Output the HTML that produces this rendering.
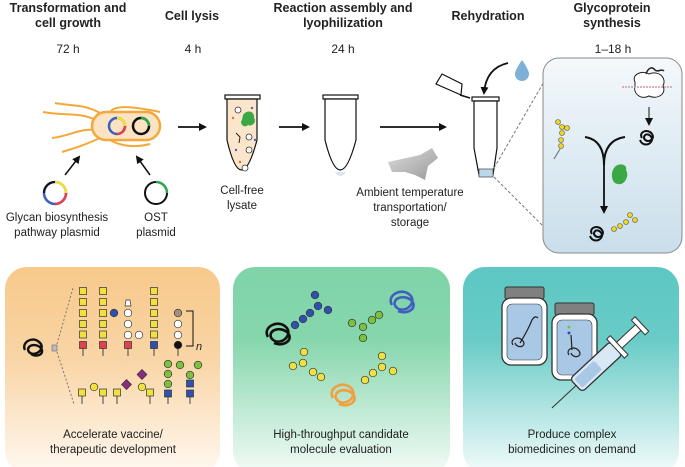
<!DOCTYPE html>
<html><head><meta charset="utf-8"><style>
html,body{margin:0;padding:0;background:#fff}
svg{display:block}
text{font-family:"Liberation Sans",sans-serif;fill:#222}
.t{font-weight:bold;font-size:12.5px;text-anchor:middle}
.h{font-size:12px;text-anchor:middle}
.l{font-size:11.5px;text-anchor:middle}
</style></head><body>
<svg width="685" height="467" viewBox="0 0 685 467" xmlns="http://www.w3.org/2000/svg">
<defs>
<marker id="ar" markerWidth="8" markerHeight="8" refX="6" refY="4" orient="auto" markerUnits="userSpaceOnUse"><path d="M0,0 L8,4 L0,8 z" fill="#111"/></marker>
<linearGradient id="gb" x1="0" y1="0" x2="0" y2="1"><stop offset="0" stop-color="#f4f8fb"/><stop offset="1" stop-color="#c9deeb"/></linearGradient>
<linearGradient id="g1" x1="0" y1="0" x2="0" y2="1"><stop offset="0" stop-color="#f7c98a"/><stop offset="0.45" stop-color="#f9d5a6"/><stop offset="1" stop-color="#fff8f0"/></linearGradient>
<linearGradient id="g2" x1="0" y1="0" x2="0" y2="1"><stop offset="0" stop-color="#7fd4a8"/><stop offset="0.35" stop-color="#86d6ad"/><stop offset="1" stop-color="#f2fbf6"/></linearGradient>
<linearGradient id="g3" x1="0" y1="0" x2="0" y2="1"><stop offset="0" stop-color="#5ec7c3"/><stop offset="0.35" stop-color="#68cbc6"/><stop offset="1" stop-color="#f2fbfb"/></linearGradient>
<linearGradient id="gp" x1="0" y1="0" x2="1" y2="1"><stop offset="0" stop-color="#ddd"/><stop offset="1" stop-color="#999"/></linearGradient>
</defs>

<!-- titles -->
<text class="t" x="68" y="12">Transformation and</text><text class="t" x="68" y="27">cell growth</text>
<text class="t" x="192" y="20">Cell lysis</text>
<text class="t" x="343" y="12">Reaction assembly and</text><text class="t" x="343" y="27">lyophilization</text>
<text class="t" x="488" y="20">Rehydration</text>
<text class="t" x="612" y="12">Glycoprotein</text><text class="t" x="612" y="27">synthesis</text>
<text class="h" x="68" y="53">72 h</text><text class="h" x="193" y="53">4 h</text><text class="h" x="343" y="53">24 h</text><text class="h" x="613" y="53">1–18 h</text>

<!-- bacterium -->
<g fill="none" stroke="#f5a83a" stroke-width="2">
<path d="M96,120 C80,112 65,116 43,112"/><path d="M100,113 C85,104 70,106 55,103"/>
<path d="M96,130 C80,128 70,136 52,138"/><path d="M100,138 C85,145 75,148 62,152"/>
<path d="M110,112 C115,105 130,106 160,112"/><path d="M110,140 C120,146 135,148 150,144"/>
</g>
<rect x="92" y="112" width="68" height="28" rx="14" fill="#fbe3c4" stroke="#f5a83a" stroke-width="2.5"/>
<circle cx="117" cy="126" r="8" fill="none" stroke="#3b5fc0" stroke-width="2.5"/>
<path d="M117,118 A8,8 0 0 1 125,126" stroke="#f0e030" stroke-width="2.5" fill="none"/>
<path d="M125,126 A8,8 0 0 1 117,134" stroke="#e04050" stroke-width="2.5" fill="none"/>
<circle cx="141" cy="126" r="8" fill="none" stroke="#111" stroke-width="2.5"/>
<path d="M141,118 A8,8 0 0 1 149,126" stroke="#2aa84a" stroke-width="2.5" fill="none"/>

<line x1="65" y1="175" x2="79" y2="157" stroke="#111" stroke-width="1.5" marker-end="url(#ar)"/>
<line x1="150" y1="175" x2="137" y2="157" stroke="#111" stroke-width="1.5" marker-end="url(#ar)"/>
<circle cx="55" cy="193" r="11" fill="none" stroke="#3b5fc0" stroke-width="2.5"/>
<path d="M55,182 A11,11 0 0 1 66,193" stroke="#f0e030" stroke-width="2.5" fill="none"/>
<path d="M66,193 A11,11 0 0 1 55,204" stroke="#e04050" stroke-width="2.5" fill="none"/>
<path d="M44,193 A11,11 0 0 1 55,182" stroke="#111" stroke-width="2" fill="none"/>
<circle cx="156" cy="193" r="11" fill="none" stroke="#111" stroke-width="2"/>
<path d="M156,182 A11,11 0 0 1 167,193" stroke="#2aa84a" stroke-width="2.5" fill="none"/>
<text class="l" x="57" y="221">Glycan biosynthesis</text><text class="l" x="57" y="236">pathway plasmid</text>
<text class="l" x="156" y="221">OST</text><text class="l" x="156" y="236">plasmid</text>

<!-- arrows -->
<line x1="178" y1="127" x2="205" y2="127" stroke="#111" stroke-width="1.8" marker-end="url(#ar)"/>
<line x1="279" y1="127" x2="308" y2="127" stroke="#111" stroke-width="1.8" marker-end="url(#ar)"/>
<line x1="380" y1="127" x2="445" y2="127" stroke="#111" stroke-width="1.8" marker-end="url(#ar)"/>

<!-- tube 1 -->
<rect x="225" y="95" width="35" height="4" fill="#fff" stroke="#111" stroke-width="1.2"/>
<path d="M227,99 L227,140 Q241,200 257,140 L257,99 Z" fill="#fbe6cc" stroke="#111" stroke-width="1.2"/>
<path d="M243,115 c4,-6 12,-4 11,3 c3,4 -2,9 -6,7 c-4,4 -9,-2 -6,-5 z" fill="#3aa845"/>
<circle cx="238" cy="110" r="3" fill="#fff" stroke="#333" stroke-width=".8"/>
<circle cx="249" cy="137" r="3" fill="#fff" stroke="#333" stroke-width=".8"/>
<circle cx="249" cy="150" r="3" fill="#fff" stroke="#333" stroke-width=".8"/>
<circle cx="245" cy="168" r="3" fill="#fff" stroke="#333" stroke-width=".8"/>
<path d="M236,133 l4,4 l-1,6" stroke="#222" fill="none"/>
<circle cx="233" cy="118" r="1.2" fill="#e07030"/><circle cx="252" cy="108" r="1.2" fill="#5060c0"/><circle cx="236" cy="150" r="1.2" fill="#5060c0"/><circle cx="240" cy="162" r="1.2" fill="#e07030"/><circle cx="255" cy="140" r="1.2" fill="#5060c0"/>
<text class="l" x="242" y="194">Cell-free</text><text class="l" x="242" y="209">lysate</text>

<!-- tube 2 -->
<rect x="323" y="95" width="35" height="4" fill="#fff" stroke="#111" stroke-width="1.2"/>
<path d="M325,99 L325,140 Q340,200 356,140 L356,99 Z" fill="#fff" stroke="#111" stroke-width="1.2"/>
<path d="M335,172 Q340,180 346,172 Z" fill="#dfe3f0"/>

<!-- plane -->
<path d="M388,162 L420,155 L432,148 L438,158 L428,166 L425,180 L415,175 L405,172 L392,172 Z" fill="url(#gp)"/>
<text class="l" x="410" y="196">Ambient temperature</text><text class="l" x="410" y="211">transportation/</text><text class="l" x="410" y="226">storage</text>

<!-- tube 3 -->
<path d="M461,95 L436,84 L442,74 L462,84 Z" fill="#fff" stroke="#111" stroke-width="1.2"/>
<path d="M460,95 L470,98" stroke="#111" stroke-width="1.5"/>
<rect x="472" y="97" width="27" height="4" fill="#fff" stroke="#111" stroke-width="1.2"/>
<path d="M474,101 L474,148 L479,175 L493,175 L497,148 L497,101 Z" fill="#fff" stroke="#111" stroke-width="1.2"/>
<rect x="479" y="169" width="14" height="8" fill="#bcd6ea" stroke="#555" stroke-width=".8"/>
<path d="M508,63 Q486,68 484,93" fill="none" stroke="#111" stroke-width="1.8" marker-end="url(#ar)"/>
<path d="M522,60 Q529,70 529,74 A7,7 0 0 1 515,74 Q515,70 522,60 Z" fill="#7fb0d8"/>
<line x1="494" y1="168" x2="545" y2="80" stroke="#777" stroke-dasharray="3,2"/>
<line x1="494" y1="177" x2="545" y2="228" stroke="#777" stroke-dasharray="3,2"/>

<!-- blue panel -->
<rect x="543" y="58" width="139" height="195" rx="16" fill="url(#gb)" stroke="#888" stroke-width="1"/>
<path d="M635,82 c-4,-8 8,-12 14,-8 c10,-4 18,4 14,12 c4,8 -6,14 -14,10 c-8,4 -16,-2 -14,-10z" fill="#fff" stroke="#222" stroke-width="1"/>
<path d="M646,74 c2,-6 6,-8 9,-4 c3,3 6,-2 9,1" fill="none" stroke="#222" stroke-width="1.5"/>
<line x1="622" y1="87" x2="673" y2="87" stroke="#c9a" stroke-width="1.5" stroke-dasharray="2,1"/>
<line x1="649" y1="107" x2="649" y2="124" stroke="#111" stroke-width="1" marker-end="url(#ar)"/>
<g fill="none" stroke="#111" stroke-width="2">
<path d="M642,138 c-4,-6 6,-10 10,-4 c4,6 -6,10 -8,4 c0,-6 8,-4 8,2 c-2,6 -10,6 -12,0"/>
<path d="M592,234 c-4,-6 6,-10 10,-4 c4,6 -6,10 -8,4 c0,-6 8,-4 8,2 c-2,6 -10,6 -12,0"/>
</g>
<path d="M585,137 Q604,140 604,165 Q604,140 625,137" fill="none" stroke="#111" stroke-width="2"/>
<line x1="604" y1="163" x2="604" y2="212" stroke="#111" stroke-width="1.8" marker-end="url(#ar)"/>
<path d="M614,168 c4,-6 14,-4 12,2 c4,6 -2,16 -8,14 c-6,0 -8,-10 -4,-16z" fill="#3aa845"/>
<g fill="#f0d820" stroke="#555" stroke-width=".6">
<circle cx="558" cy="122" r="2.5"/><circle cx="562" cy="127" r="2.5"/><circle cx="567" cy="128" r="2.5"/><circle cx="562" cy="133" r="2.5"/><circle cx="561" cy="140" r="2.5"/><circle cx="561" cy="146" r="2.5"/>
<circle cx="614" cy="229" r="2.5"/><circle cx="620" cy="226" r="2.5"/><circle cx="626" cy="222" r="2.5"/><circle cx="630" cy="215" r="2.5"/><circle cx="635" cy="220" r="2.5"/>
</g>
<line x1="560" y1="149" x2="554" y2="159" stroke="#777" stroke-width="1.2"/>

<!-- bottom panels -->
<rect x="5" y="267" width="215" height="206" rx="22" fill="url(#g1)"/>
<rect x="233" y="267" width="217" height="206" rx="22" fill="url(#g2)"/>
<rect x="463" y="267" width="216" height="206" rx="22" fill="url(#g3)"/>

<!-- panel 1 -->
<path d="M25,350 c-4,-8 8,-14 14,-8 c8,6 -4,16 -10,10 c-4,-6 6,-10 12,-4 c4,6 -4,10 -10,6" fill="none" stroke="#111" stroke-width="2.4"/>
<rect x="52" y="345" width="5" height="6" fill="#bbb" stroke="#666" stroke-width=".6"/>
<line x1="57" y1="344" x2="73" y2="288" stroke="#777" stroke-dasharray="2,2"/>
<line x1="57" y1="352" x2="74" y2="404" stroke="#777" stroke-dasharray="2,2"/>
<g stroke="#444" stroke-width="1"><line x1="83" y1="345" x2="83" y2="356"/><line x1="103" y1="345" x2="103" y2="356"/><line x1="128" y1="345" x2="128" y2="356"/><line x1="154" y1="345" x2="154" y2="356"/><line x1="178" y1="345" x2="178" y2="356"/>
<line x1="82" y1="393" x2="82" y2="404"/><line x1="103" y1="393" x2="103" y2="404"/><line x1="117" y1="393" x2="117" y2="404"/><line x1="150" y1="393" x2="150" y2="404"/><line x1="168" y1="393" x2="168" y2="404"/><line x1="190" y1="393" x2="190" y2="404"/></g>
<g stroke="#333" stroke-width=".7">
<g fill="#f0e040">
<rect x="79.5" y="287.5" width="7" height="7"/><rect x="79.5" y="298.5" width="7" height="7"/><rect x="79.5" y="309.5" width="7" height="7"/><rect x="79.5" y="320.5" width="7" height="7"/><rect x="79.5" y="331" width="7" height="7"/>
<rect x="99.5" y="287.5" width="7" height="7"/><rect x="99.5" y="298.5" width="7" height="7"/><rect x="99.5" y="309.5" width="7" height="7"/><rect x="99.5" y="320.5" width="7" height="7"/><rect x="99.5" y="331" width="7" height="7"/>
<rect x="150.5" y="287.5" width="7" height="7"/><rect x="150.5" y="298.5" width="7" height="7"/><rect x="150.5" y="309.5" width="7" height="7"/><rect x="150.5" y="320.5" width="7" height="7"/><rect x="150.5" y="331" width="7" height="7"/>
<rect x="78.5" y="389" width="7" height="7"/><rect x="99.5" y="389" width="7" height="7"/><rect x="113.5" y="389" width="7" height="7"/><rect x="146.5" y="389" width="7" height="7"/></g>
<g fill="#e04050"><rect x="79.5" y="341.5" width="7" height="7"/><rect x="99.5" y="341.5" width="7" height="7"/><rect x="124.5" y="341.5" width="7" height="7"/></g>
<rect x="150.5" y="341.5" width="7" height="7" fill="#3050b0"/>
<circle cx="114" cy="313" r="3.8" fill="#3050b0"/>
<g fill="#fff"><path d="M125,306 L131,306 L130,300 L126,300 Z"/><circle cx="128" cy="313" r="3.8"/><circle cx="128" cy="324" r="3.8"/><circle cx="128" cy="335" r="3.8"/><circle cx="139" cy="335" r="3.8"/><circle cx="178" cy="324" r="3.8"/><circle cx="178" cy="335" r="3.8"/></g>
<circle cx="178" cy="313" r="3.8" fill="#a59080"/><circle cx="178" cy="345" r="3.8" fill="#111"/>
<g fill="#f0e040"><circle cx="94" cy="387" r="3.8"/><circle cx="142" cy="387" r="3.8"/></g>
<g fill="#8a2a80"><rect x="123" y="381" width="7" height="7" transform="rotate(45 126.5 384.5)"/><rect x="138.5" y="371" width="7" height="7" transform="rotate(45 142 374.5)"/></g>
<g fill="#7cc040"><circle cx="168" cy="364" r="3.8"/><circle cx="168" cy="374" r="3.8"/><circle cx="168" cy="384" r="3.8"/><circle cx="180" cy="365" r="3.8"/><circle cx="198" cy="365" r="3.8"/><circle cx="190" cy="375" r="3.8"/></g>
<g fill="#3050b0"><rect x="164.5" y="390" width="7" height="7"/><rect x="186.5" y="380" width="7" height="7"/><rect x="186.5" y="390" width="7" height="7"/></g>
</g>
<path d="M186,311 h7 v35 h-7" fill="none" stroke="#111"/><text x="196" y="350" style="font-size:11px;font-style:italic">n</text>
<text class="l" x="113" y="438">Accelerate vaccine/</text><text class="l" x="113" y="453">therapeutic development</text>

<!-- panel 2 -->
<g fill="none" stroke-width="2.6">
<path d="M268,337 c-6,-10 10,-18 18,-10 c8,8 -6,20 -14,12 c-6,-8 8,-14 16,-6 c6,8 -6,14 -14,10" stroke="#111"/>
<path d="M392,305 c-6,-10 10,-18 18,-10 c8,8 -6,20 -14,12 c-6,-8 8,-14 16,-6 c6,8 -6,14 -14,10" stroke="#4060c0"/>
<path d="M333,398 c-6,-10 10,-18 18,-10 c8,8 -6,20 -14,12 c-6,-8 8,-14 16,-6 c6,8 -6,14 -14,10" stroke="#f0a040"/>
</g>
<g stroke="#333" stroke-width=".7">
<g fill="#3050b0"><circle cx="295" cy="325" r="3.8"/><circle cx="303" cy="319" r="3.8"/><circle cx="310" cy="313" r="3.8"/><circle cx="318" cy="306" r="3.8"/><circle cx="328" cy="310" r="3.8"/><circle cx="315" cy="295" r="3.8"/></g>
<g fill="#7cc040"><circle cx="379" cy="315" r="3.8"/><circle cx="372" cy="320" r="3.8"/><circle cx="363" cy="327" r="3.8"/><circle cx="352" cy="323" r="3.8"/><circle cx="363" cy="338" r="3.8"/></g>
<g fill="#f0e040"><circle cx="293" cy="366" r="3.8"/><circle cx="303" cy="363" r="3.8"/><circle cx="304" cy="352" r="3.8"/><circle cx="313" cy="372" r="3.8"/><circle cx="321" cy="377" r="3.8"/>
<circle cx="365" cy="380" r="3.8"/><circle cx="373" cy="373" r="3.8"/><circle cx="382" cy="367" r="3.8"/><circle cx="382" cy="356" r="3.8"/><circle cx="393" cy="371" r="3.8"/></g>
</g>
<text class="l" x="341" y="438">High-throughput candidate</text><text class="l" x="341" y="453">molecule evaluation</text>

<!-- panel 3 -->
<rect x="505" y="287" width="39" height="12" rx="2" fill="#808080" stroke="#333"/>
<rect x="502" y="298" width="45" height="67" rx="9" fill="#fff" stroke="#333" stroke-width="1.3"/>
<rect x="507" y="304" width="35" height="56" rx="5" fill="#a9c8e6" stroke="#333" stroke-width=".6"/>
<rect x="555" y="303" width="39" height="12" rx="2" fill="#808080" stroke="#333"/>
<rect x="552" y="314" width="45" height="66" rx="9" fill="#fff" stroke="#333" stroke-width="1.3"/>
<rect x="557" y="320" width="35" height="55" rx="5" fill="#a9c8e6" stroke="#333" stroke-width=".6"/>
<path d="M513,345 c-4,-6 6,-10 10,-4 c4,6 -6,8 -8,2 M520,343 Q528,330 532,320 Q535,315 538,318" fill="none" stroke="#222" stroke-width="1.2"/>
<path d="M569,355 c-4,-6 6,-10 10,-4 c4,6 -6,8 -8,2 M572,350 L571,335" fill="none" stroke="#222" stroke-width="1.2"/>
<circle cx="569" cy="333" r="1.5" fill="#3050b0"/><circle cx="569" cy="327" r="1.5" fill="#7cc040"/>
<g transform="rotate(47 598 365)">
<rect x="589" y="340" width="18" height="55" rx="4" fill="#d8e8f4" stroke="#333" stroke-width="1.3"/>
<rect x="592" y="365" width="12" height="27" rx="2" fill="#a9c8e6"/>
<rect x="585" y="336" width="26" height="5" fill="#fff" stroke="#333"/>
<rect x="594" y="310" width="8" height="26" fill="#fff" stroke="#333"/>
<rect x="588" y="305" width="20" height="5" fill="#fff" stroke="#333"/>
<line x1="598" y1="395" x2="598" y2="428" stroke="#333" stroke-width="1"/>
</g>
<text class="l" x="572" y="438">Produce complex</text><text class="l" x="572" y="453">biomedicines on demand</text>
</svg>
</body></html>
